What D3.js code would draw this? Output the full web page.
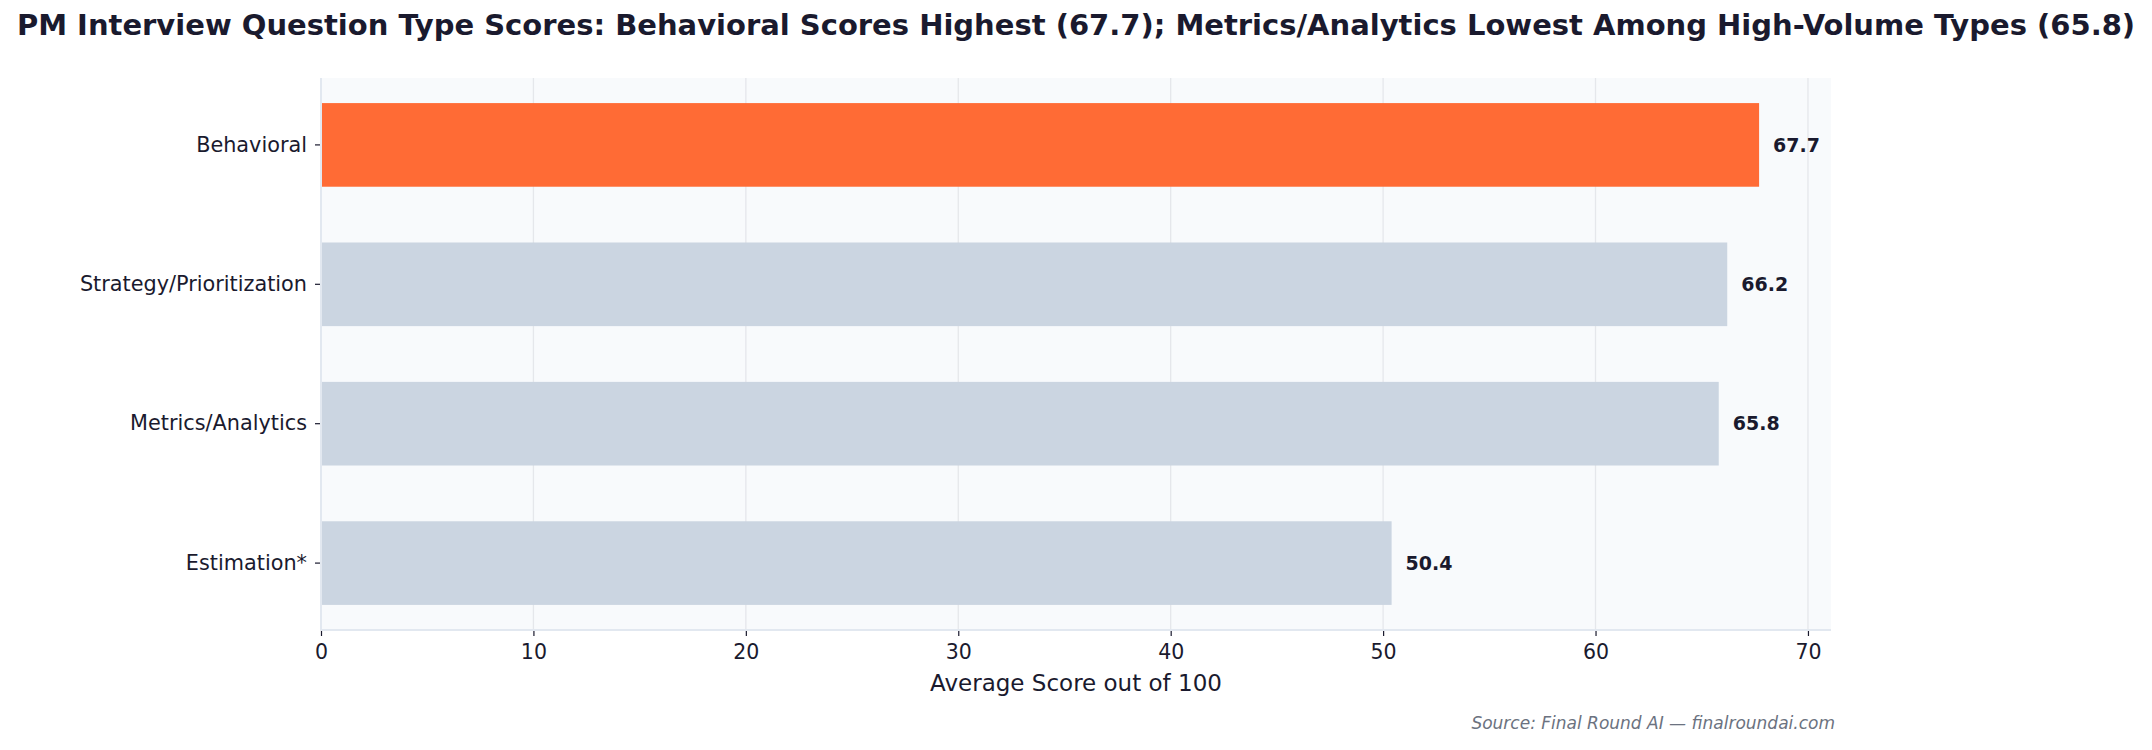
<!DOCTYPE html>
<html>
<head>
<meta charset="utf-8">
<script src="https://cdn.jsdelivr.net/npm/d3@7"></script>
<style>
  body { margin: 0; background: #fff; }
  svg { display: block; font-family: "DejaVu Sans", sans-serif; }
</style>
</head>
<body>
<svg id="chart" width="2152" height="750"></svg>
<script>
const categories = ["Behavioral", "Strategy/Prioritization", "Metrics/Analytics", "Estimation*"];
const scores = [67.7, 66.2, 65.8, 50.4];
const highlight = "Behavioral";
const xTicks = [0, 10, 20, 30, 40, 50, 60, 70];

const svg = d3.select("#chart");
const margin = {top: 78, right: 321, bottom: 120, left: 321};
const width = 2152, height = 750;
const innerW = 1831 - margin.left;
const innerH = 630 - margin.top;
const ink = "#1a1a2e";

const data = categories.map((c, i) => ({name: c, value: scores[i]}));

const x = d3.scaleLinear()
    .domain([0, d3.max(scores) * 1.05])
    .range([0, innerW]);

const y = d3.scaleBand()
    .domain(categories)
    .range([0, innerH])
    .paddingInner(0.4)
    .paddingOuter(0.18);

// title
svg.append("text")
    .attr("x", width / 2)
    .attr("y", 35)
    .attr("text-anchor", "middle")
    .attr("font-size", 29)
    .attr("font-weight", "bold")
    .attr("fill", ink)
    .text("PM Interview Question Type Scores: Behavioral Scores Highest (67.7); Metrics/Analytics Lowest Among High-Volume Types (65.8)");

const g = svg.append("g").attr("transform", `translate(${margin.left},${margin.top})`);

g.append("rect")
    .attr("width", innerW)
    .attr("height", innerH)
    .attr("fill", "#f8fafc");

// vertical grid
g.selectAll("line.grid")
    .data(xTicks)
    .enter().append("line")
    .attr("class", "grid")
    .attr("x1", d => x(d))
    .attr("x2", d => x(d))
    .attr("y1", 0)
    .attr("y2", innerH)
    .attr("stroke", "#e5e7eb")
    .attr("stroke-width", 1.3);

g.selectAll("rect.bar")
    .data(data)
    .enter().append("rect")
    .attr("class", "bar")
    .attr("x", 0)
    .attr("y", d => y(d.name))
    .attr("width", d => x(d.value))
    .attr("height", y.bandwidth())
    .attr("fill", d => d.name === highlight ? "#ff6b35" : "#cbd5e1");

g.selectAll("text.val")
    .data(data)
    .enter().append("text")
    .attr("class", "val")
    .attr("x", d => x(d.value) + 14)
    .attr("y", d => y(d.name) + y.bandwidth() / 2)
    .attr("dy", "0.35em")
    .attr("font-size", 19)
    .attr("font-weight", "bold")
    .attr("fill", ink)
    .text(d => d.value.toFixed(1));

// axes
const xAxis = g.append("g")
    .attr("transform", `translate(0,${innerH})`)
    .call(d3.axisBottom(x).tickValues(xTicks).tickSize(6).tickPadding(8));
xAxis.selectAll("text").attr("font-size", 20.5).attr("fill", ink).attr("font-family", "DejaVu Sans");
xAxis.selectAll(".tick line").attr("stroke", ink).attr("stroke-width", 1.2);
xAxis.select(".domain").remove();

const yAxis = g.append("g")
    .call(d3.axisLeft(y).tickSize(6).tickPadding(8));
yAxis.selectAll("text").attr("font-size", 20.8).attr("fill", ink).attr("font-family", "DejaVu Sans");
yAxis.selectAll(".tick line").attr("stroke", ink).attr("stroke-width", 1.2);
yAxis.select(".domain").remove();

// spines
g.append("line").attr("x1", 0).attr("x2", 0).attr("y1", 0).attr("y2", innerH)
    .attr("stroke", "#e2e8f0").attr("stroke-width", 2);
g.append("line").attr("x1", 0).attr("x2", innerW).attr("y1", innerH).attr("y2", innerH)
    .attr("stroke", "#e2e8f0").attr("stroke-width", 2);

svg.append("text")
    .attr("x", margin.left + x(d3.max(scores) * 1.05) / 2)
    .attr("y", 691)
    .attr("text-anchor", "middle")
    .attr("font-size", 23)
    .attr("fill", ink)
    .text("Average Score out of 100");

svg.append("text")
    .attr("x", 1835)
    .attr("y", 729)
    .attr("text-anchor", "end")
    .attr("font-size", 17)
    .attr("font-style", "italic")
    .attr("fill", "#6b7280")
    .text("Source: Final Round AI — finalroundai.com");
</script>
</body>
</html>
